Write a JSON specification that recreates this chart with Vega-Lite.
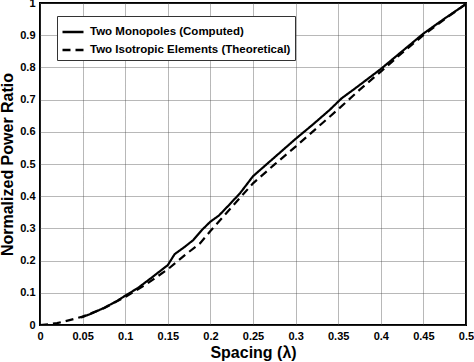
{
  "$schema": "https://vega.github.io/schema/vega-lite/v6.json",
  "width": 426,
  "height": 322,
  "autosize": {"type": "none"},
  "padding": {"left": 40, "top": 3, "right": 8, "bottom": 37},
  "background": "white",
  "config": {
    "view": {"stroke": "black", "strokeWidth": 2},
    "font": "Liberation Sans",
    "axis": {
      "domain": false,
      "ticks": false,
      "grid": true,
      "gridColor": "#4d4d4d",
      "gridDash": [1, 1],
      "gridWidth": 1,
      "gridOpacity": 0.8,
      "labelFont": "Liberation Sans Narrow, Liberation Sans",
      "labelFontWeight": "bold",
      "labelFontSize": 11,
      "labelColor": "black",
      "titleFont": "Liberation Sans",
      "titleFontWeight": "bold",
      "titleFontSize": 16,
      "titleColor": "black"
    }
  },
  "data": {
    "values": [
      {"s": 0.048, "p": 0.023, "series": "Two Monopoles (Computed)"},
      {"s": 0.06, "p": 0.035, "series": "Two Monopoles (Computed)"},
      {"s": 0.075, "p": 0.053, "series": "Two Monopoles (Computed)"},
      {"s": 0.09, "p": 0.074, "series": "Two Monopoles (Computed)"},
      {"s": 0.1, "p": 0.091, "series": "Two Monopoles (Computed)"},
      {"s": 0.115, "p": 0.115, "series": "Two Monopoles (Computed)"},
      {"s": 0.13, "p": 0.145, "series": "Two Monopoles (Computed)"},
      {"s": 0.15, "p": 0.186, "series": "Two Monopoles (Computed)"},
      {"s": 0.158, "p": 0.22, "series": "Two Monopoles (Computed)"},
      {"s": 0.17, "p": 0.243, "series": "Two Monopoles (Computed)"},
      {"s": 0.18, "p": 0.264, "series": "Two Monopoles (Computed)"},
      {"s": 0.19, "p": 0.295, "series": "Two Monopoles (Computed)"},
      {"s": 0.2, "p": 0.321, "series": "Two Monopoles (Computed)"},
      {"s": 0.21, "p": 0.34, "series": "Two Monopoles (Computed)"},
      {"s": 0.222, "p": 0.373, "series": "Two Monopoles (Computed)"},
      {"s": 0.235, "p": 0.41, "series": "Two Monopoles (Computed)"},
      {"s": 0.25, "p": 0.462, "series": "Two Monopoles (Computed)"},
      {"s": 0.275, "p": 0.52, "series": "Two Monopoles (Computed)"},
      {"s": 0.3, "p": 0.578, "series": "Two Monopoles (Computed)"},
      {"s": 0.32, "p": 0.622, "series": "Two Monopoles (Computed)"},
      {"s": 0.34, "p": 0.668, "series": "Two Monopoles (Computed)"},
      {"s": 0.354, "p": 0.704, "series": "Two Monopoles (Computed)"},
      {"s": 0.37, "p": 0.735, "series": "Two Monopoles (Computed)"},
      {"s": 0.4, "p": 0.795, "series": "Two Monopoles (Computed)"},
      {"s": 0.425, "p": 0.85, "series": "Two Monopoles (Computed)"},
      {"s": 0.45, "p": 0.905, "series": "Two Monopoles (Computed)"},
      {"s": 0.475, "p": 0.952, "series": "Two Monopoles (Computed)"},
      {"s": 0.5, "p": 0.997, "series": "Two Monopoles (Computed)"},
      {"s": 0.0, "p": 0.0, "series": "Two Isotropic Elements (Theoretical)"},
      {"s": 0.01, "p": 0.002, "series": "Two Isotropic Elements (Theoretical)"},
      {"s": 0.02, "p": 0.006, "series": "Two Isotropic Elements (Theoretical)"},
      {"s": 0.03, "p": 0.012, "series": "Two Isotropic Elements (Theoretical)"},
      {"s": 0.04, "p": 0.019, "series": "Two Isotropic Elements (Theoretical)"},
      {"s": 0.05, "p": 0.026, "series": "Two Isotropic Elements (Theoretical)"},
      {"s": 0.075, "p": 0.052, "series": "Two Isotropic Elements (Theoretical)"},
      {"s": 0.1, "p": 0.087, "series": "Two Isotropic Elements (Theoretical)"},
      {"s": 0.125, "p": 0.127, "series": "Two Isotropic Elements (Theoretical)"},
      {"s": 0.15, "p": 0.173, "series": "Two Isotropic Elements (Theoretical)"},
      {"s": 0.17, "p": 0.217, "series": "Two Isotropic Elements (Theoretical)"},
      {"s": 0.188, "p": 0.254, "series": "Two Isotropic Elements (Theoretical)"},
      {"s": 0.2, "p": 0.292, "series": "Two Isotropic Elements (Theoretical)"},
      {"s": 0.225, "p": 0.366, "series": "Two Isotropic Elements (Theoretical)"},
      {"s": 0.25, "p": 0.44, "series": "Two Isotropic Elements (Theoretical)"},
      {"s": 0.275, "p": 0.498, "series": "Two Isotropic Elements (Theoretical)"},
      {"s": 0.3, "p": 0.554, "series": "Two Isotropic Elements (Theoretical)"},
      {"s": 0.325, "p": 0.612, "series": "Two Isotropic Elements (Theoretical)"},
      {"s": 0.35, "p": 0.67, "series": "Two Isotropic Elements (Theoretical)"},
      {"s": 0.375, "p": 0.73, "series": "Two Isotropic Elements (Theoretical)"},
      {"s": 0.4, "p": 0.787, "series": "Two Isotropic Elements (Theoretical)"},
      {"s": 0.425, "p": 0.845, "series": "Two Isotropic Elements (Theoretical)"},
      {"s": 0.45, "p": 0.9, "series": "Two Isotropic Elements (Theoretical)"},
      {"s": 0.475, "p": 0.95, "series": "Two Isotropic Elements (Theoretical)"},
      {"s": 0.5, "p": 0.997, "series": "Two Isotropic Elements (Theoretical)"}
    ]
  },
  "mark": {"type": "line", "color": "black", "strokeWidth": 2.2, "clip": true},
  "encoding": {
    "x": {
      "field": "s", "type": "quantitative",
      "scale": {"domain": [0, 0.5], "nice": false, "zero": false},
      "axis": {"values": [0, 0.05, 0.1, 0.15, 0.2, 0.25, 0.3, 0.35, 0.4, 0.45, 0.5], "format": "~g", "labelPadding": 5, "titlePadding": 3, "labelFlush": false, "labelOverlap": false},
      "title": "Spacing (λ)"
    },
    "y": {
      "field": "p", "type": "quantitative",
      "scale": {"domain": [0, 1], "nice": false},
      "axis": {"values": [0, 0.1, 0.2, 0.3, 0.4, 0.5, 0.6, 0.7, 0.8, 0.9, 1], "format": "~g", "labelPadding": 5, "titlePadding": 4, "labelFlush": false, "labelOverlap": false},
      "title": "Normalized Power Ratio"
    },
    "strokeDash": {
      "field": "series", "type": "nominal",
      "scale": {"domain": ["Two Monopoles (Computed)", "Two Isotropic Elements (Theoretical)"], "range": [[1, 0], [8, 5]]},
      "legend": {
        "title": null,
        "orient": "none",
        "legendX": 17,
        "legendY": 13,
        "fillColor": "white",
        "strokeColor": "#333333",
        "padding": 4,
        "symbolType": "stroke",
        "symbolSize": 441,
        "symbolStrokeWidth": 2.5,
        "symbolStrokeColor": "black",
        "labelFont": "Liberation Sans",
        "labelFontWeight": "bold",
        "labelFontSize": 11.5,
        "labelColor": "black",
        "labelOffset": 5,
        "labelLimit": 400,
        "rowPadding": 0
      }
    }
  }
}
